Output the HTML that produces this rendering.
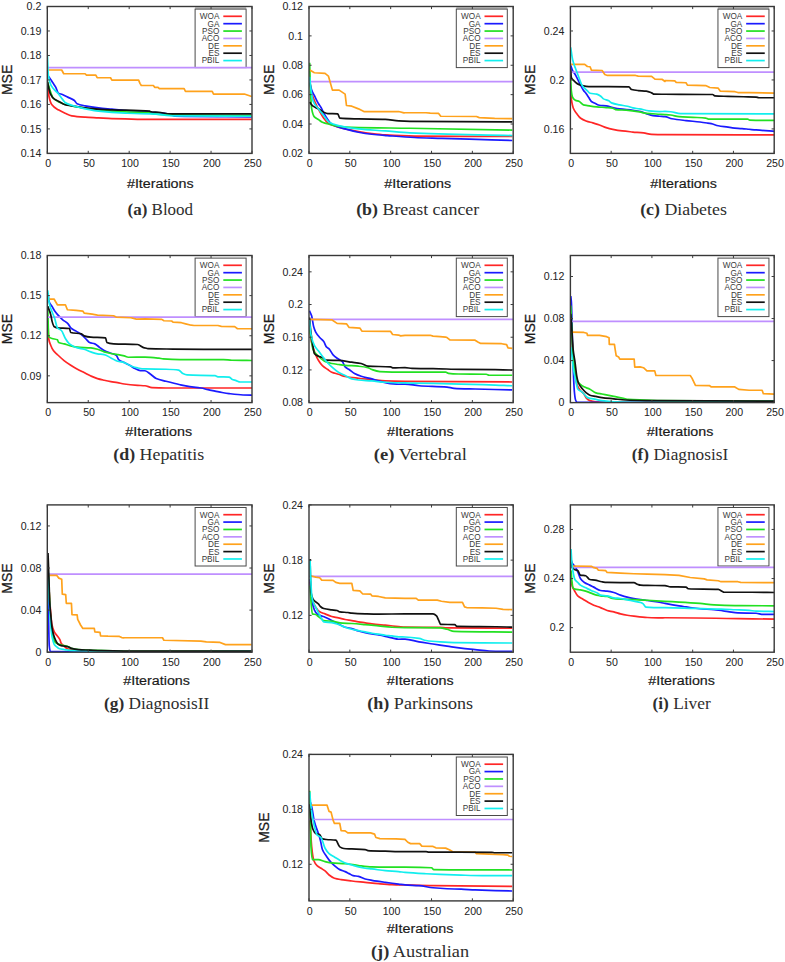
<!DOCTYPE html>
<html><head><meta charset="utf-8"><style>
html,body{margin:0;padding:0;background:#fff;width:785px;height:962px;overflow:hidden}
svg{display:block}
text{font-family:"Liberation Sans",sans-serif;fill:#222}
.yt{font-size:10.6px;text-anchor:end}
.xt{font-size:10.6px;text-anchor:middle}
.lg{font-size:8.2px;text-anchor:end;fill:#3a3a3a}
.ml{font-size:14.0px;text-anchor:middle;fill:#1a1a1a;stroke:#1a1a1a;stroke-width:0.25px}
.xl{font-size:14.3px;text-anchor:middle;fill:#1a1a1a;stroke:#1a1a1a;stroke-width:0.2px}
.cap{font-family:"Liberation Serif",serif;font-size:16.6px;text-anchor:middle;fill:#2e2e2e}
</style></head><body>
<svg width="785" height="962" viewBox="0 0 785 962">
<clipPath id="cpa"><rect x="47.3" y="6.5" width="204.7" height="146.9"/></clipPath>
<rect x="195.1" y="6.5" width="51" height="2.6" fill="#c4c4c4"/>
<rect x="195.1" y="9.1" width="51" height="58.5" fill="#fff" stroke="#4a4a4a" stroke-width="1"/>
<text x="219.4" y="19.2" class="lg">WOA</text>
<path d="M223.3 16.3H241.9" stroke="#ff2626" stroke-width="1.7"/>
<text x="219.4" y="26.58" class="lg">GA</text>
<path d="M223.3 23.68H241.9" stroke="#1a1aff" stroke-width="1.7"/>
<text x="219.4" y="33.96" class="lg">PSO</text>
<path d="M223.3 31.06H241.9" stroke="#22e022" stroke-width="1.7"/>
<text x="219.4" y="41.34" class="lg">ACO</text>
<path d="M223.3 38.44H241.9" stroke="#bf8fff" stroke-width="1.7"/>
<text x="219.4" y="48.72" class="lg">DE</text>
<path d="M223.3 45.82H241.9" stroke="#ffa21c" stroke-width="1.7"/>
<text x="219.4" y="56.1" class="lg">ES</text>
<path d="M223.3 53.2H241.9" stroke="#111111" stroke-width="1.7"/>
<text x="219.4" y="63.48" class="lg">PBIL</text>
<path d="M223.3 60.58H241.9" stroke="#12eeee" stroke-width="1.7"/>
<g clip-path="url(#cpa)" fill="none" stroke-width="1.7" stroke-linejoin="round">
<path d="M47.41 81.75C47.94 86.66 48.48 93.94 49.01 96.47C49.9 100.67 50.8 103.26 51.69 104.49C53.92 107.56 56.15 108.47 58.38 109.84C60.61 111.21 62.83 112.2 65.06 113.19C67.29 114.18 69.52 115.48 71.75 115.86C76.21 116.63 80.67 116.9 85.13 117.2C89.59 117.5 94.05 117.64 98.5 117.87C102.96 118.09 107.42 118.37 111.88 118.54C116.34 118.7 120.8 118.82 125.26 118.94C133.51 119.15 141.75 119.47 150 119.47C150.02 119.47 150.04 119.47 150.05 119.47C183.92 119.47 217.79 119.47 251.67 119.47" stroke="#ff2626"/>
<path d="M47.41 75.06C47.94 75.73 48.48 76.35 49.01 77.07C50.35 78.87 51.69 81.08 53.03 83.09C53.92 84.43 54.81 85.5 55.7 87.1C56.59 88.71 57.48 92.58 58.38 93.12C59.71 93.94 61.05 93.93 62.39 94.46C64.17 95.17 65.96 96.24 67.74 97.13C69.97 98.25 72.2 98.78 74.43 100.48C75.32 101.16 76.21 103.4 77.1 103.82C79.78 105.08 82.45 105.32 85.13 105.83C89.59 106.68 94.05 107.3 98.5 107.84C102.96 108.37 107.42 108.73 111.88 109.17C116.34 109.62 120.8 110.14 125.26 110.51C133.51 111.2 141.75 110.56 150 112.25C150.02 112.25 150.04 112.52 150.05 112.52C152.94 112.78 155.82 112.64 158.7 112.78C162.71 112.98 166.73 113.58 170.74 114.52C172.08 114.84 173.41 116.24 174.75 116.26C200.39 116.76 226.03 116.62 251.67 116.8" stroke="#1a1aff"/>
<path d="M47.41 81.75C49.28 87.1 51.15 95.59 53.03 97.8C54.81 99.91 56.59 100.88 58.38 101.82C60.61 102.99 62.83 103.87 65.06 104.49C69.52 105.73 73.98 106.44 78.44 107.17C85.13 108.25 91.82 109.19 98.5 109.84C107.42 110.71 116.34 111.4 125.26 111.85C133.51 112.26 141.75 111.86 150 112.78C150.02 112.79 150.04 113.18 150.05 113.19C158.29 114.89 166.52 114.8 174.75 114.93C200.39 115.3 226.03 115.28 251.67 115.46" stroke="#22e022"/>
<path d="M47.3 67.7H252" stroke="#bf8fff"/>
<path d="M47.68 69.98 61.72 69.98 63.73 73.73 85.13 73.73 86.47 75.06 95.83 75.06 97.17 77.74 110.54 77.74 111.88 80.15 138.63 80.15 139.97 83.36 141.31 85.5 150 85.5 148 85.5 153.35 85.5 154.69 87.37 158.03 87.37 159.37 88.71 184.12 88.71 185.45 91.38 212.21 91.38 213.54 94.06 244.31 94.06 251.67 96.47" stroke="#ffa21c"/>
<path d="M47.41 81.75C48.39 85.77 49.37 91.77 50.35 93.79C51.69 96.55 53.03 98.17 54.36 99.14C55.7 100.11 57.04 100.46 58.38 101.15C60.61 102.3 62.83 104.21 65.06 104.76C67.29 105.31 69.52 105.48 71.75 105.83C76.21 106.52 80.67 107.3 85.13 107.84C89.59 108.37 94.05 108.88 98.5 109.17C102.96 109.47 107.42 109.65 111.88 109.84C124.59 110.38 137.3 109.86 150 111.18C150.02 111.18 150.04 111.44 150.05 111.45C152.94 112.22 155.82 111.94 158.7 112.25C162.71 112.68 166.73 113.86 170.74 113.86C197.71 113.86 224.69 113.86 251.67 113.86" stroke="#111111"/>
<path d="M47.41 55C47.72 61.69 48.03 72.94 48.34 75.06C49.46 82.64 50.57 84.47 51.69 86.43C53.92 90.36 56.15 91.08 58.38 93.79C59.71 95.42 61.05 97.42 62.39 99.14C63.28 100.29 64.17 101.93 65.06 102.49C69.52 105.27 73.98 106.01 78.44 107.17C85.13 108.9 91.82 110.43 98.5 111.18C107.42 112.17 116.34 112.83 125.26 113.19C133.51 113.51 141.75 113.86 150 113.86C150.02 113.86 150.04 113.86 150.05 113.86C158.29 113.86 166.52 115.77 174.75 115.86C200.39 116.16 226.03 116.13 251.67 116.26" stroke="#12eeee"/>
</g>
<rect x="47.3" y="6.5" width="204.7" height="146.9" fill="none" stroke="#383838" stroke-width="1.4"/>
<text x="41.3" y="157.15" class="yt">0.14</text>
<text x="41.3" y="132.67" class="yt">0.15</text>
<text x="41.3" y="108.18" class="yt">0.16</text>
<text x="41.3" y="83.7" class="yt">0.17</text>
<text x="41.3" y="59.22" class="yt">0.18</text>
<text x="41.3" y="34.73" class="yt">0.19</text>
<text x="41.3" y="10.25" class="yt">0.2</text>
<text x="48.1" y="167" class="xt">0</text>
<text x="89.04" y="167" class="xt">50</text>
<text x="129.98" y="167" class="xt">100</text>
<text x="170.92" y="167" class="xt">150</text>
<text x="211.86" y="167" class="xt">200</text>
<text x="252.8" y="167" class="xt">250</text>
<path d="M47.3 153.4h2.6M252 153.4h-2.6M47.3 128.92h2.6M252 128.92h-2.6M47.3 104.43h2.6M252 104.43h-2.6M47.3 79.95h2.6M252 79.95h-2.6M47.3 55.47h2.6M252 55.47h-2.6M47.3 30.98h2.6M252 30.98h-2.6M47.3 6.5h2.6M252 6.5h-2.6M47.3 153.4v-2.6M47.3 6.5v2.6M88.24 153.4v-2.6M88.24 6.5v2.6M129.18 153.4v-2.6M129.18 6.5v2.6M170.12 153.4v-2.6M170.12 6.5v2.6M211.06 153.4v-2.6M211.06 6.5v2.6M252 153.4v-2.6M252 6.5v2.6" stroke="#3c3c3c" stroke-width="1"/>
<text transform="translate(12.2 79.95) rotate(-90)" class="ml">MSE</text>
<text transform="translate(160.3 187.8) scale(1 0.93)" class="xl">#Iterations</text>
<text x="160.3" y="214.7" class="cap" textLength="65.6" lengthAdjust="spacingAndGlyphs"><tspan font-weight="bold">(a)</tspan> Blood</text>
<clipPath id="cpb"><rect x="309" y="6.5" width="204.2" height="146.9"/></clipPath>
<rect x="456.3" y="6.5" width="51" height="2.6" fill="#c4c4c4"/>
<rect x="456.3" y="9.1" width="51" height="58.5" fill="#fff" stroke="#4a4a4a" stroke-width="1"/>
<text x="480.6" y="19.2" class="lg">WOA</text>
<path d="M484.5 16.3H503.1" stroke="#ff2626" stroke-width="1.7"/>
<text x="480.6" y="26.58" class="lg">GA</text>
<path d="M484.5 23.68H503.1" stroke="#1a1aff" stroke-width="1.7"/>
<text x="480.6" y="33.96" class="lg">PSO</text>
<path d="M484.5 31.06H503.1" stroke="#22e022" stroke-width="1.7"/>
<text x="480.6" y="41.34" class="lg">ACO</text>
<path d="M484.5 38.44H503.1" stroke="#bf8fff" stroke-width="1.7"/>
<text x="480.6" y="48.72" class="lg">DE</text>
<path d="M484.5 45.82H503.1" stroke="#ffa21c" stroke-width="1.7"/>
<text x="480.6" y="56.1" class="lg">ES</text>
<path d="M484.5 53.2H503.1" stroke="#111111" stroke-width="1.7"/>
<text x="480.6" y="63.48" class="lg">PBIL</text>
<path d="M484.5 60.58H503.1" stroke="#12eeee" stroke-width="1.7"/>
<g clip-path="url(#cpb)" fill="none" stroke-width="1.7" stroke-linejoin="round">
<path d="M309.68 80.77C310.35 84.78 311.02 90.22 311.69 92.8C313.03 97.96 314.36 100.45 315.7 103.5C317.04 106.56 318.38 109.1 319.71 111.53C321.05 113.96 322.39 116.38 323.73 118.22C325.06 120.05 326.4 121.96 327.74 122.9C329.08 123.84 330.41 124.38 331.75 124.91C336.21 126.66 340.67 127.85 345.13 128.92C349.59 129.99 354.05 130.83 358.5 131.59C362.96 132.36 367.42 133.07 371.88 133.6C376.34 134.14 380.8 134.67 385.26 134.94C395.02 135.53 404.79 136.07 414.56 136.13C447.15 136.33 479.75 136.31 512.34 136.4" stroke="#ff2626"/>
<path d="M309.68 82.1C310.35 84.78 311.02 88.32 311.69 90.13C312.58 92.54 313.47 93.7 314.36 95.48C315.7 98.15 317.04 101.23 318.38 103.5C319.27 105.02 320.16 105.99 321.05 107.52C321.94 109.05 322.83 111.24 323.73 112.87C325.06 115.31 326.4 117.72 327.74 119.56C329.08 121.39 330.41 123.44 331.75 124.24C336.21 126.9 340.67 127.62 345.13 128.92C349.59 130.22 354.05 131.43 358.5 132.26C362.96 133.1 367.42 133.78 371.88 134.27C376.98 134.83 382.07 135.18 387.17 135.58C396.3 136.29 405.43 137.11 414.56 137.5C423.69 137.88 432.82 138.04 441.95 138.32C451.08 138.59 460.21 138.86 469.34 139.14C483.67 139.58 498.01 140.05 512.34 140.51" stroke="#1a1aff"/>
<path d="M309.68 62.71C309.9 70.96 310.13 82.24 310.35 87.45C310.8 97.87 311.24 106.42 311.69 108.86C312.58 113.73 313.47 115.86 314.36 116.88C315.7 118.4 317.04 118.66 318.38 119.56C319.71 120.45 321.05 121.66 322.39 122.23C324.62 123.18 326.85 123.68 329.08 124.24C332.2 125.03 335.32 125.87 338.44 126.24C342.9 126.78 347.36 127.18 351.82 127.31C371.21 127.92 390.61 127.92 410 128.25C444.12 128.83 478.23 129.48 512.34 130.1" stroke="#22e022"/>
<path d="M309 81.7H513.2" stroke="#bf8fff"/>
<path d="M309.82 70.06 314.36 72.74 325.06 73.41 328.41 76.08 332.42 90.13 339.11 90.13 345.13 94.14 346.47 105.51 351.82 106.18 358.5 108.86 363.86 111.53 398.63 111.53 403.98 112.87 405 112.74 426.02 112.74 430.22 113.16 438.63 113.44 440.73 116.24 476.47 116.52 479.27 117.65 494.69 118.35 512.2 118.63" stroke="#ffa21c"/>
<path d="M309.68 102.17C310.8 103.5 311.91 105.37 313.03 106.18C314.81 107.48 316.59 107.86 318.38 108.86C320.16 109.85 321.94 111.43 323.73 112.2C325.06 112.77 326.4 113.43 327.74 113.54C331.08 113.81 334.43 113.6 337.77 113.94C338.44 114 339.11 118.15 339.78 118.22C346.02 118.81 352.26 118.75 358.5 118.89C367.42 119.08 376.34 119.03 385.26 119.29C389.72 119.42 394.17 120.65 398.63 120.89C402.42 121.1 406.21 121.25 410 121.29C444.12 121.71 478.23 121.69 512.34 121.88" stroke="#111111"/>
<path d="M309.68 76.75C310.13 81.21 310.57 86.96 311.02 90.13C311.69 94.88 312.36 99.12 313.03 100.83C314.81 105.39 316.59 106.42 318.38 108.86C320.16 111.29 321.94 113.31 323.73 115.54C325.51 117.77 327.29 121.19 329.08 122.23C332.2 124.06 335.32 124.83 338.44 125.58C345.13 127.17 351.82 128.21 358.5 128.92C367.42 129.86 376.34 130.23 385.26 130.93C393.51 131.57 401.75 132.57 410 132.93C444.12 134.43 478.23 134.7 512.34 135.58" stroke="#12eeee"/>
</g>
<rect x="309" y="6.5" width="204.2" height="146.9" fill="none" stroke="#383838" stroke-width="1.4"/>
<text x="303" y="157.15" class="yt">0.02</text>
<text x="303" y="127.77" class="yt">0.04</text>
<text x="303" y="98.39" class="yt">0.06</text>
<text x="303" y="69.01" class="yt">0.08</text>
<text x="303" y="39.63" class="yt">0.1</text>
<text x="303" y="10.25" class="yt">0.12</text>
<text x="309.8" y="167" class="xt">0</text>
<text x="350.64" y="167" class="xt">50</text>
<text x="391.48" y="167" class="xt">100</text>
<text x="432.32" y="167" class="xt">150</text>
<text x="473.16" y="167" class="xt">200</text>
<text x="514" y="167" class="xt">250</text>
<path d="M309 153.4h2.6M513.2 153.4h-2.6M309 124.02h2.6M513.2 124.02h-2.6M309 94.64h2.6M513.2 94.64h-2.6M309 65.26h2.6M513.2 65.26h-2.6M309 35.88h2.6M513.2 35.88h-2.6M309 6.5h2.6M513.2 6.5h-2.6M309 153.4v-2.6M309 6.5v2.6M349.84 153.4v-2.6M349.84 6.5v2.6M390.68 153.4v-2.6M390.68 6.5v2.6M431.52 153.4v-2.6M431.52 6.5v2.6M472.36 153.4v-2.6M472.36 6.5v2.6M513.2 153.4v-2.6M513.2 6.5v2.6" stroke="#3c3c3c" stroke-width="1"/>
<text transform="translate(273.7 79.95) rotate(-90)" class="ml">MSE</text>
<text transform="translate(417.7 187.7) scale(1 0.93)" class="xl">#Iterations</text>
<text x="417.7" y="214.8" class="cap" textLength="123.1" lengthAdjust="spacingAndGlyphs"><tspan font-weight="bold">(b)</tspan> Breast cancer</text>
<clipPath id="cpc"><rect x="570.4" y="6.5" width="203.8" height="146.9"/></clipPath>
<rect x="717.95" y="6.5" width="51" height="2.6" fill="#c4c4c4"/>
<rect x="717.95" y="9.1" width="51" height="58.5" fill="#fff" stroke="#4a4a4a" stroke-width="1"/>
<text x="742.25" y="19.2" class="lg">WOA</text>
<path d="M746.15 16.3H764.75" stroke="#ff2626" stroke-width="1.7"/>
<text x="742.25" y="26.58" class="lg">GA</text>
<path d="M746.15 23.68H764.75" stroke="#1a1aff" stroke-width="1.7"/>
<text x="742.25" y="33.96" class="lg">PSO</text>
<path d="M746.15 31.06H764.75" stroke="#22e022" stroke-width="1.7"/>
<text x="742.25" y="41.34" class="lg">ACO</text>
<path d="M746.15 38.44H764.75" stroke="#bf8fff" stroke-width="1.7"/>
<text x="742.25" y="48.72" class="lg">DE</text>
<path d="M746.15 45.82H764.75" stroke="#ffa21c" stroke-width="1.7"/>
<text x="742.25" y="56.1" class="lg">ES</text>
<path d="M746.15 53.2H764.75" stroke="#111111" stroke-width="1.7"/>
<text x="742.25" y="63.48" class="lg">PBIL</text>
<path d="M746.15 60.58H764.75" stroke="#12eeee" stroke-width="1.7"/>
<g clip-path="url(#cpc)" fill="none" stroke-width="1.7" stroke-linejoin="round">
<path d="M570.68 90.83C570.9 93.5 571.13 97.24 571.35 98.86C572.02 103.71 572.69 106.56 573.36 108.22C574.47 110.99 575.59 112.06 576.7 113.57C578.04 115.38 579.38 117.3 580.71 118.25C582.5 119.52 584.28 120.25 586.06 120.93C588.29 121.77 590.52 122.26 592.75 122.93C594.98 123.6 597.21 124.17 599.44 124.94C601.67 125.7 603.9 126.91 606.13 127.61C608.36 128.32 610.59 128.89 612.82 129.35C615.94 130 619.06 130.56 622.18 130.96C625.75 131.41 629.31 131.69 632.88 132.03C636.45 132.36 640.01 132.55 643.58 132.96C646.26 133.28 648.93 134.19 651.61 134.3C656.07 134.49 660.54 134.57 665 134.6C701.67 134.81 738.34 134.78 775.01 134.88" stroke="#ff2626"/>
<path d="M570.68 65.41C571.35 67.2 572.02 69.46 572.69 70.77C573.58 72.5 574.47 73.26 575.36 74.78C576.7 77.05 578.04 80.24 579.38 82.8C580.71 85.36 582.05 88.2 583.39 90.16C584.28 91.47 585.17 92.29 586.06 93.5C586.96 94.72 587.85 96.18 588.74 97.52C589.63 98.86 590.52 100.84 591.41 101.53C592.75 102.57 594.09 102.92 595.43 103.54C596.77 104.16 598.1 105.08 599.44 105.28C601.67 105.59 603.9 105.54 606.13 105.81C608.36 106.08 610.59 107.05 612.82 107.55C615.05 108.05 617.28 108.58 619.5 108.89C623.96 109.5 628.42 109.66 632.88 110.22C635.56 110.57 638.23 110.93 640.91 111.56C642.69 111.98 644.47 112.97 646.26 113.57C648.49 114.31 650.72 115.24 652.94 115.58C655.17 115.91 657.4 116.05 659.63 116.24C661.42 116.4 663.21 116.44 665 116.66C667.34 116.94 669.67 118.32 672.01 118.76C676.68 119.65 681.35 120.05 686.02 120.58C690.69 121.11 695.36 121.43 700.03 121.98C702.37 122.26 704.7 122.61 707.04 122.97C708.44 123.18 709.84 123.37 711.24 123.67C713.58 124.15 715.92 125.31 718.25 125.77C721.52 126.41 724.79 126.66 728.06 127.17C729.46 127.39 730.86 127.72 732.26 127.87C735.53 128.22 738.8 128.3 742.07 128.57C744.41 128.77 746.75 129.04 749.08 129.27C751.42 129.5 753.75 129.77 756.09 129.97C762.39 130.52 768.7 130.91 775.01 131.37" stroke="#1a1aff"/>
<path d="M570.68 78.79C570.9 82.8 571.13 88.97 571.35 90.83C571.8 94.55 572.24 96.71 572.69 97.52C573.58 99.12 574.47 99.73 575.36 100.19C576.7 100.88 578.04 100.89 579.38 101.53C580.71 102.17 582.05 104.5 583.39 104.87C584.73 105.25 586.06 105.34 587.4 105.54C590.52 106.03 593.64 106.58 596.77 106.88C599.89 107.18 603.01 107.29 606.13 107.55C608.36 107.74 610.59 107.81 612.82 108.22C613.71 108.38 614.6 109.44 615.49 109.56C619.06 110.03 622.63 109.93 626.19 110.22C630.65 110.6 635.11 111.24 639.57 111.96C641.8 112.32 644.03 113.06 646.26 113.3C650.72 113.79 655.17 113.95 659.63 114.24C661.42 114.35 663.21 114.44 665 114.56C666.87 114.68 668.74 114.78 670.61 114.98C673.41 115.27 676.21 116.42 679.01 116.66C683.68 117.05 688.36 117.11 693.03 117.36C697.23 117.58 701.43 117.58 705.64 118.06C706.57 118.17 707.51 119.03 708.44 119.04C721.52 119.17 734.6 119.05 747.68 119.18C748.38 119.19 749.08 120.14 749.78 120.16C758.19 120.41 766.6 120.35 775.01 120.44" stroke="#22e022"/>
<path d="M570.4 72.1H774.2" stroke="#bf8fff"/>
<path d="M571.08 64.34 584.73 64.34 587.4 66.48 590.08 66.75 591.41 70.1 602.12 70.5 604.79 74.51 607.47 75.45 635.56 75.45 638.23 76.12 651.61 76.38 654.95 79.06 662.31 79.46 664.98 81.47 665 80.5 674.81 80.92 676.21 82.33 686.02 82.75 687.42 85.13 705.64 85.55 709.84 87.51 718.25 88.21 720.35 91.15 735.07 91.72 737.87 92.56 749.08 92.56 775.01 93.12" stroke="#ffa21c"/>
<path d="M570.68 69.43C570.9 72.1 571.13 76.85 571.35 77.45C572.24 79.86 573.13 79.89 574.03 80.8C575.36 82.15 576.7 83.5 578.04 84.14C579.38 84.78 580.71 85.18 582.05 85.48C584.28 85.98 586.51 86.51 588.74 86.55C602.12 86.77 615.49 86.57 628.87 86.82C629.76 86.83 630.65 89.22 631.54 89.49C633.77 90.18 636 90.35 638.23 90.56C640.91 90.82 643.58 90.79 646.26 91.1C648.04 91.3 649.82 92.12 651.61 92.84C652.5 93.2 653.39 94.16 654.28 94.17C657.86 94.23 661.43 94.22 665 94.24C680.88 94.33 696.76 94.25 712.65 94.52C713.35 94.53 714.05 95.87 714.75 95.92C719.19 96.26 723.62 96.21 728.06 96.34C733.2 96.49 738.34 96.63 743.48 96.76C747.68 96.86 751.88 96.83 756.09 97.04C757.02 97.09 757.96 97.74 758.89 97.74C764.26 97.74 769.63 97.74 775.01 97.74" stroke="#111111"/>
<path d="M570.68 47.36C571.35 51.59 572.02 57.29 572.69 60.06C573.58 63.76 574.47 65.56 575.36 68.09C576.7 71.88 578.04 75.35 579.38 78.79C580.27 81.09 581.16 84.14 582.05 85.48C583.83 88.15 585.62 89.15 587.4 90.83C588.29 91.67 589.19 93 590.08 93.24C592.31 93.84 594.54 93.66 596.77 94.17C598.1 94.48 599.44 95.27 600.78 96.18C601.67 96.79 602.56 98.34 603.45 98.86C605.24 99.88 607.02 99.94 608.8 100.86C609.7 101.32 610.59 102.5 611.48 102.87C614.15 103.96 616.83 104.34 619.5 104.87C622.18 105.41 624.86 105.61 627.53 106.21C629.31 106.61 631.1 107.6 632.88 107.95C635.11 108.39 637.34 108.51 639.57 108.89C642.69 109.41 645.81 110.59 648.93 110.89C652.5 111.24 656.07 111.56 659.63 111.56C661.42 111.56 663.21 111.47 665 111.47C666.87 111.47 668.74 111.61 670.61 111.75C673.88 112 677.14 113.55 680.41 113.58C711.95 113.83 743.48 113.76 775.01 113.86" stroke="#12eeee"/>
</g>
<rect x="570.4" y="6.5" width="203.8" height="146.9" fill="none" stroke="#383838" stroke-width="1.4"/>
<text x="564.4" y="132.67" class="yt">0.16</text>
<text x="564.4" y="83.7" class="yt">0.2</text>
<text x="564.4" y="34.73" class="yt">0.24</text>
<text x="571.2" y="167" class="xt">0</text>
<text x="611.96" y="167" class="xt">50</text>
<text x="652.72" y="167" class="xt">100</text>
<text x="693.48" y="167" class="xt">150</text>
<text x="734.24" y="167" class="xt">200</text>
<text x="775" y="167" class="xt">250</text>
<path d="M570.4 128.92h2.6M774.2 128.92h-2.6M570.4 79.95h2.6M774.2 79.95h-2.6M570.4 30.98h2.6M774.2 30.98h-2.6M570.4 153.4v-2.6M570.4 6.5v2.6M611.16 153.4v-2.6M611.16 6.5v2.6M651.92 153.4v-2.6M651.92 6.5v2.6M692.68 153.4v-2.6M692.68 6.5v2.6M733.44 153.4v-2.6M733.44 6.5v2.6M774.2 153.4v-2.6M774.2 6.5v2.6" stroke="#3c3c3c" stroke-width="1"/>
<text transform="translate(534.7 79.95) rotate(-90)" class="ml">MSE</text>
<text transform="translate(683.5 187.7) scale(1 0.93)" class="xl">#Iterations</text>
<text x="683.5" y="214.8" class="cap" textLength="86.7" lengthAdjust="spacingAndGlyphs"><tspan font-weight="bold">(c)</tspan> Diabetes</text>
<clipPath id="cpd"><rect x="47.3" y="255.5" width="204.7" height="147.1"/></clipPath>
<rect x="195.1" y="258.1" width="51" height="58.5" fill="#fff" stroke="#4a4a4a" stroke-width="1"/>
<text x="219.4" y="268.2" class="lg">WOA</text>
<path d="M223.3 265.3H241.9" stroke="#ff2626" stroke-width="1.7"/>
<text x="219.4" y="275.58" class="lg">GA</text>
<path d="M223.3 272.68H241.9" stroke="#1a1aff" stroke-width="1.7"/>
<text x="219.4" y="282.96" class="lg">PSO</text>
<path d="M223.3 280.06H241.9" stroke="#22e022" stroke-width="1.7"/>
<text x="219.4" y="290.34" class="lg">ACO</text>
<path d="M223.3 287.44H241.9" stroke="#bf8fff" stroke-width="1.7"/>
<text x="219.4" y="297.72" class="lg">DE</text>
<path d="M223.3 294.82H241.9" stroke="#ffa21c" stroke-width="1.7"/>
<text x="219.4" y="305.1" class="lg">ES</text>
<path d="M223.3 302.2H241.9" stroke="#111111" stroke-width="1.7"/>
<text x="219.4" y="312.48" class="lg">PBIL</text>
<path d="M223.3 309.58H241.9" stroke="#12eeee" stroke-width="1.7"/>
<g clip-path="url(#cpd)" fill="none" stroke-width="1.7" stroke-linejoin="round">
<path d="M48.01 323.79C48.24 328.7 48.46 337.03 48.68 338.5C49.35 342.92 50.02 343.5 50.69 345.19C51.58 347.45 52.47 349.33 53.36 350.54C54.7 352.37 56.04 353.28 57.38 354.56C59.61 356.68 61.83 358.82 64.06 360.58C66.29 362.33 68.52 363.82 70.75 365.26C72.98 366.7 75.21 368.05 77.44 369.27C79.67 370.49 81.9 371.5 84.13 372.61C86.36 373.73 88.59 374.97 90.82 375.96C93.05 376.95 95.28 377.96 97.5 378.63C99.73 379.3 101.96 379.75 104.19 380.24C106.42 380.72 108.65 381.18 110.88 381.58C113.11 381.97 115.34 382.25 117.57 382.65C119.8 383.04 122.03 383.67 124.26 383.98C128.72 384.6 133.17 384.99 137.63 385.32C140.09 385.5 142.54 385.52 145 385.76C147.34 385.99 149.67 387.45 152.01 387.58C156.68 387.86 161.35 388 166.02 388C195.68 388 225.34 388 255.01 388" stroke="#ff2626"/>
<path d="M47.75 293.03C48.28 296.15 48.82 301.05 49.35 302.39C50.24 304.63 51.13 304.96 52.03 306.4C52.92 307.84 53.81 309.78 54.7 311.08C55.59 312.38 56.48 313.42 57.38 314.43C59.16 316.43 60.94 318.25 62.73 319.78C64.51 321.31 66.29 321.94 68.08 323.79C68.97 324.72 69.86 326.98 70.75 327.8C72.54 329.45 74.32 330.03 76.1 331.15C77.89 332.26 79.67 333.08 81.45 334.49C82.34 335.2 83.24 336.28 84.13 337.17C85.02 338.06 85.91 338.95 86.8 339.84C87.7 340.73 88.59 342.14 89.48 342.52C91.26 343.28 93.05 343.19 94.83 343.86C96.61 344.52 98.4 346.61 100.18 347.87C101.52 348.81 102.86 349.86 104.19 350.54C106.42 351.68 108.65 352.36 110.88 353.22C112.66 353.91 114.45 354.04 116.23 355.22C117.12 355.82 118.01 359.17 118.91 359.91C120.69 361.38 122.47 361.69 124.26 362.58C126.04 363.47 127.82 364.27 129.61 365.26C131.39 366.25 133.17 367.76 134.96 368.6C136.74 369.44 138.52 370.5 140.31 370.61C141.87 370.7 143.44 370.67 145 370.77C146.87 370.89 148.74 373 150.61 374.27C152.47 375.55 154.34 377.67 156.21 378.48C159.48 379.89 162.75 380.4 166.02 381.28C170.69 382.53 175.36 383.76 180.03 384.78C182.37 385.29 184.7 385.81 187.04 386.18C191.71 386.94 196.38 387.19 201.05 388C203.39 388.41 205.72 389.18 208.06 389.69C210.4 390.2 212.73 390.62 215.07 391.09C217.4 391.55 219.74 392.07 222.07 392.49C224.41 392.9 226.75 393.31 229.08 393.61C233.75 394.2 238.42 394.84 243.09 395.01C247.06 395.16 251.04 395.2 255.01 395.29" stroke="#1a1aff"/>
<path d="M47.75 306.4C48.06 316.43 48.37 336.05 48.68 336.5C49.8 338.1 50.91 338.1 52.03 338.5C53.81 339.15 55.59 338.9 57.38 339.84C57.82 340.08 58.27 342.28 58.71 342.52C60.5 343.46 62.28 343.37 64.06 343.86C66.29 344.46 68.52 345.33 70.75 345.86C72.98 346.4 75.21 347.01 77.44 347.2C81.9 347.58 86.36 347.49 90.82 347.87C93.05 348.06 95.28 348.61 97.5 349.21C99.73 349.8 101.96 351.21 104.19 351.88C106.42 352.55 108.65 353.06 110.88 353.49C113.11 353.91 115.34 354.16 117.57 354.56C119.8 354.95 122.03 355.32 124.26 355.89C125.59 356.24 126.93 357.23 128.27 357.23C133.85 357.23 139.42 357.03 145 357.03C149.67 357.03 154.34 357.62 159.01 358.16C160.41 358.32 161.82 358.75 163.22 358.86C168.82 359.28 174.43 359.56 180.03 359.56C194.51 359.56 208.99 359.56 223.48 359.56C226.28 359.56 229.08 360.19 231.88 360.26C239.59 360.44 247.3 360.44 255.01 360.54" stroke="#22e022"/>
<path d="M47.3 317.1H252" stroke="#bf8fff"/>
<path d="M48.01 299.04 54.03 299.04 57.38 304.8 65.4 304.8 67.41 309.75 76.1 310.41 82.79 311.08 84.13 313.09 92.15 314.16 97.5 315.1 113.56 315.77 116.23 317.1 130.94 317.77 136.3 319.11 145 318.92 161.82 319.34 163.92 320.74 171.63 321.02 173.03 322.14 181.43 322.7 185.64 323.82 191.24 325.22 194.05 325.5 217.87 325.5 221.37 326.35 234.69 326.63 237.49 328.73 255.01 328.73" stroke="#ffa21c"/>
<path d="M47.75 306.4C48.73 309.08 49.71 310.83 50.69 314.43C51.13 316.06 51.58 319.53 52.03 321.12C52.69 323.49 53.36 325.97 54.03 326.47C55.15 327.29 56.26 327.68 57.38 327.8C61.39 328.26 65.4 327.88 69.41 328.47C69.86 328.54 70.31 332.34 70.75 332.49C74.32 333.61 77.89 332.93 81.45 333.82C82.34 334.05 83.24 335.52 84.13 335.83C86.36 336.6 88.59 336.99 90.82 337.17C95.72 337.56 100.63 337.23 105.53 337.84C105.98 337.89 106.42 342.31 106.87 342.52C109.1 343.57 111.33 343.73 113.56 343.86C121.58 344.31 129.61 344.02 137.63 344.52C139.86 344.66 142.09 347.59 144.32 347.87C144.55 347.9 144.77 347.9 145 347.93C145.93 348.03 146.87 348.59 147.8 348.63C156.21 348.97 164.62 348.95 173.03 349.05C183.3 349.17 193.58 349.33 203.86 349.33C220.91 349.33 237.96 349.33 255.01 349.33" stroke="#111111"/>
<path d="M47.75 290.35C48.28 294.81 48.82 301.27 49.35 303.73C50.24 307.82 51.13 309.32 52.03 311.75C52.92 314.18 53.81 315.84 54.7 318.44C55.59 321.04 56.48 326.76 57.38 327.8C58.71 329.37 60.05 329.14 61.39 330.48C62.73 331.82 64.06 336.36 65.4 338.5C66.74 340.64 68.08 342.83 69.41 343.86C72.09 345.9 74.77 347.11 77.44 347.87C79.67 348.5 81.9 348.61 84.13 349.21C86.36 349.8 88.59 351.12 90.82 351.88C93.05 352.65 95.28 353.55 97.5 353.89C99.73 354.22 101.96 354.18 104.19 354.56C106.42 354.93 108.65 356.79 110.88 357.9C113.11 359.01 115.34 360.61 117.57 361.24C119.8 361.88 122.03 361.94 124.26 362.58C126.49 363.22 128.72 365.09 130.94 365.93C133.17 366.76 135.4 367.51 137.63 367.93C140.09 368.4 142.54 368.88 145 368.95C152.01 369.14 159.01 369.06 166.02 369.23C170.22 369.33 174.43 369.46 178.63 370.07C180.03 370.27 181.43 372.9 182.84 373.57C184.24 374.24 185.64 374.89 187.04 374.97C196.38 375.52 205.72 375.09 215.07 375.67C216 375.73 216.94 376.74 217.87 376.79C221.61 377.01 225.34 376.85 229.08 377.07C230.01 377.13 230.95 378.73 231.88 379.18C233.28 379.84 234.69 380.11 236.09 380.58C237.49 381.04 238.89 381.98 240.29 381.98C245.2 381.98 250.1 381.98 255.01 381.98" stroke="#12eeee"/>
</g>
<rect x="47.3" y="255.5" width="204.7" height="147.1" fill="none" stroke="#383838" stroke-width="1.4"/>
<text x="41.3" y="379.6" class="yt">0.09</text>
<text x="41.3" y="339.49" class="yt">0.12</text>
<text x="41.3" y="299.37" class="yt">0.15</text>
<text x="41.3" y="259.25" class="yt">0.18</text>
<text x="48.1" y="416.2" class="xt">0</text>
<text x="89.04" y="416.2" class="xt">50</text>
<text x="129.98" y="416.2" class="xt">100</text>
<text x="170.92" y="416.2" class="xt">150</text>
<text x="211.86" y="416.2" class="xt">200</text>
<text x="252.8" y="416.2" class="xt">250</text>
<path d="M47.3 375.85h2.6M252 375.85h-2.6M47.3 335.74h2.6M252 335.74h-2.6M47.3 295.62h2.6M252 295.62h-2.6M47.3 255.5h2.6M252 255.5h-2.6M47.3 402.6v-2.6M47.3 255.5v2.6M88.24 402.6v-2.6M88.24 255.5v2.6M129.18 402.6v-2.6M129.18 255.5v2.6M170.12 402.6v-2.6M170.12 255.5v2.6M211.06 402.6v-2.6M211.06 255.5v2.6M252 402.6v-2.6M252 255.5v2.6" stroke="#3c3c3c" stroke-width="1"/>
<text transform="translate(12.2 329.05) rotate(-90)" class="ml">MSE</text>
<text transform="translate(158.7 435.7) scale(1 0.93)" class="xl">#Iterations</text>
<text x="158.7" y="459.6" class="cap" textLength="90.9" lengthAdjust="spacingAndGlyphs"><tspan font-weight="bold">(d)</tspan> Hepatitis</text>
<clipPath id="cpe"><rect x="309" y="255.5" width="204.2" height="147.1"/></clipPath>
<rect x="456.3" y="258.1" width="51" height="58.5" fill="#fff" stroke="#4a4a4a" stroke-width="1"/>
<text x="480.6" y="268.2" class="lg">WOA</text>
<path d="M484.5 265.3H503.1" stroke="#ff2626" stroke-width="1.7"/>
<text x="480.6" y="275.58" class="lg">GA</text>
<path d="M484.5 272.68H503.1" stroke="#1a1aff" stroke-width="1.7"/>
<text x="480.6" y="282.96" class="lg">PSO</text>
<path d="M484.5 280.06H503.1" stroke="#22e022" stroke-width="1.7"/>
<text x="480.6" y="290.34" class="lg">ACO</text>
<path d="M484.5 287.44H503.1" stroke="#bf8fff" stroke-width="1.7"/>
<text x="480.6" y="297.72" class="lg">DE</text>
<path d="M484.5 294.82H503.1" stroke="#ffa21c" stroke-width="1.7"/>
<text x="480.6" y="305.1" class="lg">ES</text>
<path d="M484.5 302.2H503.1" stroke="#111111" stroke-width="1.7"/>
<text x="480.6" y="312.48" class="lg">PBIL</text>
<path d="M484.5 309.58H503.1" stroke="#12eeee" stroke-width="1.7"/>
<g clip-path="url(#cpe)" fill="none" stroke-width="1.7" stroke-linejoin="round">
<path d="M309.41 318.73C309.95 325.86 310.48 337.01 311.02 340.13C311.91 345.33 312.8 346.81 313.69 349.49C314.36 351.5 315.03 353.3 315.7 354.84C316.59 356.89 317.48 358.75 318.38 360.19C319.71 362.36 321.05 364.24 322.39 365.54C324.17 367.28 325.96 368.3 327.74 369.56C329.08 370.5 330.41 371.66 331.75 372.23C333.98 373.18 336.21 373.53 338.44 374.24C340.67 374.95 342.9 376.07 345.13 376.51C349.59 377.39 354.05 377.75 358.5 378.25C362.96 378.75 367.42 379.14 371.88 379.59C376.34 380.03 380.8 380.78 385.26 380.93C391.84 381.13 398.42 381.21 405 381.28C440.73 381.66 476.47 381.75 512.2 381.98" stroke="#ff2626"/>
<path d="M309.41 310.7C310.17 312.48 310.93 313.56 311.69 316.05C312.36 318.25 313.03 324.37 313.69 326.75C314.36 329.13 315.03 330.87 315.7 332.1C317.04 334.57 318.38 335.92 319.71 337.45C321.05 338.98 322.39 339.64 323.73 341.47C324.62 342.68 325.51 345.84 326.4 346.82C327.29 347.79 328.19 347.95 329.08 348.82C330.41 350.13 331.75 353.41 333.09 354.84C334.43 356.28 335.77 357.22 337.1 358.19C338.89 359.47 340.67 359.73 342.45 361.53C343.34 362.43 344.24 365.96 345.13 366.88C346.47 368.26 347.8 368.61 349.14 369.56C350.92 370.81 352.71 372.63 354.49 373.57C356.72 374.75 358.95 375.55 361.18 376.24C364.75 377.36 368.31 377.94 371.88 378.92C374.11 379.53 376.34 380.3 378.57 380.93C380.8 381.55 383.03 382.28 385.26 382.66C389.72 383.43 394.17 384.27 398.63 384.27C400.76 384.27 402.88 384.08 405 384.08C409.67 384.08 414.34 385.42 419.01 385.76C428.36 386.45 437.7 386.37 447.04 387.16C449.38 387.36 451.71 388.14 454.05 388.28C461.05 388.72 468.06 388.78 475.07 388.99C487.45 389.35 499.82 389.64 512.2 389.97" stroke="#1a1aff"/>
<path d="M309.41 329.43C309.95 332.1 310.48 334.54 311.02 337.45C311.69 341.09 312.36 347.96 313.03 349.49C314.81 353.59 316.59 354.43 318.38 356.18C320.61 358.37 322.83 360.56 325.06 361.53C327.29 362.5 329.52 363.11 331.75 363.54C333.98 363.96 336.21 364.18 338.44 364.47C340.67 364.76 342.9 365.07 345.13 365.28C349.59 365.68 354.05 365.78 358.5 366.21C361.63 366.51 364.75 366.8 367.87 367.55C369.21 367.87 370.54 369.09 371.88 369.56C374.56 370.48 377.23 371.42 379.91 371.56C388.27 371.99 396.64 372.17 405 372.17C418.55 372.17 432.09 372.17 445.64 372.17C446.57 372.17 447.51 373.16 448.44 373.29C451.71 373.75 454.98 373.93 458.25 373.99C467.59 374.18 476.94 374.03 486.28 374.27C487.21 374.3 488.15 375.25 489.08 375.25C496.79 375.25 504.5 375.25 512.2 375.25" stroke="#22e022"/>
<path d="M309 319.4H513.2" stroke="#bf8fff"/>
<path d="M309.68 319.4 331.75 319.8 337.1 323.41 346.47 323.81 349.14 327.42 359.84 328.09 361.85 331.03 390.61 331.43 392.61 334.51 398.63 335.05 400.64 335.85 405 335.31 430.22 335.31 433.03 336.15 440.03 336.72 445.64 337.14 447.04 337.56 449.84 339.94 475.07 340.22 477.87 342.04 480.67 343.44 501.69 343.72 506.6 344.56 508 347.93 512.2 348.35" stroke="#ffa21c"/>
<path d="M309.41 317.39C309.95 322.74 310.48 329.13 311.02 333.44C311.69 338.83 312.36 343.03 313.03 346.82C313.47 349.34 313.92 352.9 314.36 353.5C315.7 355.31 317.04 355.59 318.38 356.18C319.71 356.77 321.05 356.92 322.39 357.52C323.73 358.11 325.06 360.12 326.4 360.19C330.41 360.4 334.43 360.31 338.44 360.46C342.9 360.63 347.36 361.59 351.82 362.2C354.94 362.63 358.06 362.86 361.18 363.54C363.41 364.02 365.64 366.07 367.87 366.21C375.45 366.7 383.03 366.34 390.61 366.88C391.5 366.94 392.39 367.95 393.28 367.95C397.19 367.95 401.09 367.54 405 367.54C407.34 367.54 409.67 368.32 412.01 368.39C419.01 368.58 426.02 368.55 433.03 368.67C442.37 368.83 451.71 369.23 461.05 369.37C475.07 369.57 489.08 369.55 503.09 369.79C506.13 369.84 509.17 369.97 512.2 370.07" stroke="#111111"/>
<path d="M309.41 320.06C309.95 324.97 310.48 332.09 311.02 334.78C312.13 340.38 313.25 343.35 314.36 345.48C315.7 348.03 317.04 349.05 318.38 350.83C319.71 352.61 321.05 354.4 322.39 356.18C323.73 357.96 325.06 359.99 326.4 361.53C328.19 363.58 329.97 365.29 331.75 366.88C333.98 368.87 336.21 370.86 338.44 372.23C340.67 373.6 342.9 374.46 345.13 375.58C347.36 376.69 349.59 378.38 351.82 378.92C354.05 379.46 356.28 379.76 358.5 379.99C362.96 380.44 367.42 380.56 371.88 380.93C376.34 381.29 380.8 382.02 385.26 382.26C391.84 382.62 398.42 382.82 405 382.96C414.34 383.16 423.68 383.2 433.03 383.38C442.37 383.56 451.71 383.85 461.05 384.08C470.4 384.31 479.74 384.49 489.08 384.78C496.79 385.03 504.5 385.44 512.2 385.76" stroke="#12eeee"/>
</g>
<rect x="309" y="255.5" width="204.2" height="147.1" fill="none" stroke="#383838" stroke-width="1.4"/>
<text x="303" y="406.35" class="yt">0.08</text>
<text x="303" y="373.66" class="yt">0.12</text>
<text x="303" y="340.97" class="yt">0.16</text>
<text x="303" y="308.28" class="yt">0.2</text>
<text x="303" y="275.59" class="yt">0.24</text>
<text x="309.8" y="416.2" class="xt">0</text>
<text x="350.64" y="416.2" class="xt">50</text>
<text x="391.48" y="416.2" class="xt">100</text>
<text x="432.32" y="416.2" class="xt">150</text>
<text x="473.16" y="416.2" class="xt">200</text>
<text x="514" y="416.2" class="xt">250</text>
<path d="M309 402.6h2.6M513.2 402.6h-2.6M309 369.91h2.6M513.2 369.91h-2.6M309 337.22h2.6M513.2 337.22h-2.6M309 304.53h2.6M513.2 304.53h-2.6M309 271.84h2.6M513.2 271.84h-2.6M309 402.6v-2.6M309 255.5v2.6M349.84 402.6v-2.6M349.84 255.5v2.6M390.68 402.6v-2.6M390.68 255.5v2.6M431.52 402.6v-2.6M431.52 255.5v2.6M472.36 402.6v-2.6M472.36 255.5v2.6M513.2 402.6v-2.6M513.2 255.5v2.6" stroke="#3c3c3c" stroke-width="1"/>
<text transform="translate(273.7 329.05) rotate(-90)" class="ml">MSE</text>
<text transform="translate(420.3 435.7) scale(1 0.93)" class="xl">#Iterations</text>
<text x="420.3" y="459.6" class="cap" textLength="93.1" lengthAdjust="spacingAndGlyphs"><tspan font-weight="bold">(e)</tspan> Vertebral</text>
<clipPath id="cpf"><rect x="570.4" y="255.5" width="203.8" height="147.1"/></clipPath>
<rect x="717.95" y="258.1" width="51" height="58.5" fill="#fff" stroke="#4a4a4a" stroke-width="1"/>
<text x="742.25" y="268.2" class="lg">WOA</text>
<path d="M746.15 265.3H764.75" stroke="#ff2626" stroke-width="1.7"/>
<text x="742.25" y="275.58" class="lg">GA</text>
<path d="M746.15 272.68H764.75" stroke="#1a1aff" stroke-width="1.7"/>
<text x="742.25" y="282.96" class="lg">PSO</text>
<path d="M746.15 280.06H764.75" stroke="#22e022" stroke-width="1.7"/>
<text x="742.25" y="290.34" class="lg">ACO</text>
<path d="M746.15 287.44H764.75" stroke="#bf8fff" stroke-width="1.7"/>
<text x="742.25" y="297.72" class="lg">DE</text>
<path d="M746.15 294.82H764.75" stroke="#ffa21c" stroke-width="1.7"/>
<text x="742.25" y="305.1" class="lg">ES</text>
<path d="M746.15 302.2H764.75" stroke="#111111" stroke-width="1.7"/>
<text x="742.25" y="312.48" class="lg">PBIL</text>
<path d="M746.15 309.58H764.75" stroke="#12eeee" stroke-width="1.7"/>
<g clip-path="url(#cpf)" fill="none" stroke-width="1.7" stroke-linejoin="round">
<path d="M570.78 313.92C571.18 321.89 571.58 331 571.98 337.83C572.38 344.67 572.78 350.92 573.17 355.77C573.77 363.04 574.37 369.66 574.97 373.71C575.77 379.11 576.56 383.69 577.36 385.67C578.36 388.13 579.35 389.21 580.35 390.45C581.55 391.93 582.74 392.49 583.94 394.04C584.73 395.07 585.53 397.43 586.33 398.22C587.52 399.41 588.72 400.23 589.92 400.61C591.91 401.25 593.9 401.62 595.9 401.81C597.89 401.99 599.88 402.14 601.87 402.17C616.58 402.35 631.29 402.41 646 402.41C689.18 402.41 732.35 401.78 775.53 401.47" stroke="#ff2626"/>
<path d="M570.78 295.98C570.98 297.97 571.18 298.97 571.38 301.96C571.58 304.95 571.78 312.42 571.98 319.9C572.18 327.37 572.38 342.43 572.58 349.79C572.86 360.09 573.14 367.36 573.41 373.71C573.73 380.96 574.05 388.34 574.37 391.64C574.77 395.78 575.17 399.08 575.57 400.01C576.16 401.42 576.76 402.41 577.36 402.41C600.24 402.41 623.12 402.41 646 402.41C689.18 402.41 732.35 402.14 775.53 402.01" stroke="#1a1aff"/>
<path d="M570.78 305.55C571.1 312.32 571.42 318.08 571.74 325.87C572.02 332.7 572.3 345.4 572.58 349.79C573.17 359.2 573.77 363.68 574.37 367.73C575.17 373.13 575.97 377.94 576.76 379.69C577.96 382.3 579.15 383.41 580.35 384.47C581.55 385.53 582.74 386.25 583.94 386.86C585.93 387.88 587.92 388.3 589.92 389.25C591.91 390.21 593.9 392.24 595.9 392.84C597.89 393.44 599.88 393.64 601.87 394.04C605.86 394.83 609.85 395.66 613.83 396.43C617.02 397.04 620.21 397.53 623.4 398.22C624.99 398.57 626.59 399.31 628.18 399.42C634.12 399.83 640.06 399.8 646 400.01C651.29 400.21 656.58 400.59 661.86 400.64C699.75 401.05 737.64 401.01 775.53 401.19" stroke="#22e022"/>
<path d="M570.4 321.3H774.2" stroke="#bf8fff"/>
<path d="M571.38 332.09 583.94 332.45 586.93 333.29 587.52 335.44 599.48 335.44 606.66 336.64 609.05 337.83 609.29 344.41 614.43 344.41 615.03 348.59 616.22 355.77 618.62 356.97 619.81 359.12 634.16 359.12 634.76 367.13 640 366.85 643.47 367.72 646.93 370.84 654.73 370.84 655.94 375.52 690.24 375.52 691.98 378.12 695.44 385.39 709.3 385.56 711.03 386.78 734.42 386.78 738.75 389.38 749.15 390.24 762.14 390.24 763.35 393.71 774.27 394.05" stroke="#ffa21c"/>
<path d="M570.78 347.4C571.18 350.19 571.58 352.49 571.98 355.77C572.38 359.05 572.78 364.97 573.17 367.73C573.97 373.25 574.77 376.14 575.57 379.69C576.36 383.23 577.16 388.3 577.96 389.25C579.15 390.69 580.35 390.69 581.55 391.64C582.74 392.6 583.94 394.04 585.13 395.23C585.93 396.03 586.73 397.3 587.52 397.62C590.31 398.74 593.11 398.84 595.9 399.42C597.89 399.83 599.88 400.34 601.87 400.61C605.86 401.16 609.85 401.67 613.83 401.81C624.56 402.18 635.28 402.41 646 402.41C689.18 402.41 732.35 401.78 775.53 401.47" stroke="#12eeee"/>
<path d="M570.78 313.92C571.18 319.9 571.58 325.87 571.98 331.85C572.38 337.83 572.78 346.01 573.17 349.79C573.77 355.46 574.37 357.4 574.97 361.75C575.57 366.1 576.16 372.91 576.76 376.1C577.36 379.29 577.96 381.93 578.56 383.27C579.95 386.41 581.35 387.62 582.74 389.25C583.94 390.65 585.13 391.88 586.33 392.84C587.52 393.8 588.72 394.85 589.92 395.23C591.91 395.87 593.9 396.03 595.9 396.43C597.89 396.83 599.88 397.35 601.87 397.62C605.86 398.18 609.85 398.42 613.83 398.82C617.82 399.22 621.8 399.82 625.79 400.01C632.53 400.34 639.26 400.49 646 400.61C646.72 400.63 647.45 400.64 648.17 400.64C690.62 400.98 733.08 401.01 775.53 401.19" stroke="#111111"/>
</g>
<rect x="570.4" y="255.5" width="203.8" height="147.1" fill="none" stroke="#383838" stroke-width="1.4"/>
<text x="564.4" y="406.35" class="yt">0</text>
<text x="564.4" y="364.32" class="yt">0.04</text>
<text x="564.4" y="322.29" class="yt">0.08</text>
<text x="564.4" y="280.26" class="yt">0.12</text>
<text x="571.2" y="416.2" class="xt">0</text>
<text x="611.96" y="416.2" class="xt">50</text>
<text x="652.72" y="416.2" class="xt">100</text>
<text x="693.48" y="416.2" class="xt">150</text>
<text x="734.24" y="416.2" class="xt">200</text>
<text x="775" y="416.2" class="xt">250</text>
<path d="M570.4 402.6h2.6M774.2 402.6h-2.6M570.4 360.57h2.6M774.2 360.57h-2.6M570.4 318.54h2.6M774.2 318.54h-2.6M570.4 276.51h2.6M774.2 276.51h-2.6M570.4 402.6v-2.6M570.4 255.5v2.6M611.16 402.6v-2.6M611.16 255.5v2.6M651.92 402.6v-2.6M651.92 255.5v2.6M692.68 402.6v-2.6M692.68 255.5v2.6M733.44 402.6v-2.6M733.44 255.5v2.6M774.2 402.6v-2.6M774.2 255.5v2.6" stroke="#3c3c3c" stroke-width="1"/>
<text transform="translate(534.7 329.05) rotate(-90)" class="ml">MSE</text>
<text transform="translate(680 435.7) scale(1 0.93)" class="xl">#Iterations</text>
<text x="680" y="459.6" class="cap" textLength="96.3" lengthAdjust="spacingAndGlyphs"><tspan font-weight="bold">(f)</tspan> DiagnosisI</text>
<clipPath id="cpg"><rect x="47.3" y="504.9" width="204.7" height="147.3"/></clipPath>
<rect x="195.1" y="507.5" width="51" height="58.5" fill="#fff" stroke="#4a4a4a" stroke-width="1"/>
<text x="219.4" y="517.6" class="lg">WOA</text>
<path d="M223.3 514.7H241.9" stroke="#ff2626" stroke-width="1.7"/>
<text x="219.4" y="524.98" class="lg">GA</text>
<path d="M223.3 522.08H241.9" stroke="#1a1aff" stroke-width="1.7"/>
<text x="219.4" y="532.36" class="lg">PSO</text>
<path d="M223.3 529.46H241.9" stroke="#22e022" stroke-width="1.7"/>
<text x="219.4" y="539.74" class="lg">ACO</text>
<path d="M223.3 536.84H241.9" stroke="#bf8fff" stroke-width="1.7"/>
<text x="219.4" y="547.12" class="lg">DE</text>
<path d="M223.3 544.22H241.9" stroke="#ffa21c" stroke-width="1.7"/>
<text x="219.4" y="554.5" class="lg">ES</text>
<path d="M223.3 551.6H241.9" stroke="#111111" stroke-width="1.7"/>
<text x="219.4" y="561.88" class="lg">PBIL</text>
<path d="M223.3 558.98H241.9" stroke="#12eeee" stroke-width="1.7"/>
<g clip-path="url(#cpg)" fill="none" stroke-width="1.7" stroke-linejoin="round">
<path d="M48.34 573.57C48.61 579.29 48.88 585.96 49.14 590.71C49.52 597.51 49.9 603.22 50.29 607.86C50.86 614.81 51.43 622.29 52 625C52.76 628.61 53.52 630.41 54.29 631.86C55.43 634.02 56.57 634.81 57.71 636.43C58.48 637.51 59.24 638.27 60 639.86C60.38 640.65 60.76 642.68 61.14 643.29C61.9 644.5 62.67 644.87 63.43 645.57C64.57 646.62 65.71 648.04 66.86 648.43C68.76 649.08 70.67 649.19 72.57 649.57C74.48 649.95 76.38 650.66 78.29 650.71C93.52 651.18 108.76 651.24 124 651.29C166.51 651.41 209.02 651.41 251.53 651.47" stroke="#ff2626"/>
<path d="M47.77 579.29C47.96 586.9 48.15 592.78 48.34 602.14C48.5 609.64 48.65 624.2 48.8 630.71C48.95 637.23 49.1 643.98 49.26 645.57C49.6 649.15 49.94 651.28 50.29 651.29C74.86 651.85 99.43 651.86 124 651.86C166.51 651.86 209.02 651.78 251.53 651.74" stroke="#1a1aff"/>
<path d="M48.34 574.71C48.61 580.05 48.88 585.38 49.14 590.71C49.52 598.33 49.9 608.38 50.29 613.57C50.86 621.36 51.43 627.1 52 630.71C52.76 635.53 53.52 639.75 54.29 641C55.05 642.25 55.81 642.85 56.57 643.29C58.1 644.16 59.62 644.6 61.14 645C63.05 645.5 64.95 645.59 66.86 646.14C68.38 646.59 69.9 648.03 71.43 648.43C73.71 649.02 76 649.39 78.29 649.57C82.1 649.88 85.9 649.99 89.71 650.14C101.14 650.62 112.57 651.25 124 651.29C166.51 651.43 209.02 651.41 251.53 651.47" stroke="#22e022"/>
<path d="M47.3 574.1H252" stroke="#bf8fff"/>
<path d="M49.14 575.29 56.57 575.29 58.86 578.14 61.71 579.29 62.29 594.14 65.71 594.71 66.29 603.29 71.43 603.29 72 614.71 77.14 614.94 77.71 619.29 80.57 625 82.86 628.43 94.29 628.43 94.86 631.86 100 632.43 100.57 635.86 108 636.2 119.43 636.43 121.71 637.57 124 637.8 124.17 637.77 162.51 637.77 163.88 640.24 200.86 641.06 206.34 641.88 220.03 642.43 225.51 644.62 251.53 644.62" stroke="#ffa21c"/>
<path d="M48.34 572.43C48.61 580.43 48.88 589.95 49.14 596.43C49.52 605.68 49.9 614.09 50.29 619.29C50.86 627.08 51.43 633.4 52 636.43C52.76 640.47 53.52 643.24 54.29 644.43C55.05 645.61 55.81 646.06 56.57 646.71C57.33 647.37 58.1 648.17 58.86 648.43C60.76 649.08 62.67 649.25 64.57 649.57C67.24 650.02 69.9 650.62 72.57 650.71C89.71 651.31 106.86 651.51 124 651.51C166.51 651.51 209.02 651.48 251.53 651.47" stroke="#12eeee"/>
<path d="M48 553C48.19 557.95 48.38 562.55 48.57 567.86C48.76 573.16 48.95 579.29 49.14 585C49.33 590.71 49.52 598.71 49.71 602.14C50.1 609 50.48 611.7 50.86 615.86C51.24 620.01 51.62 624.8 52 627.29C52.57 631.01 53.14 633.35 53.71 635.29C54.29 637.23 54.86 638.64 55.43 639.86C56.19 641.48 56.95 643.24 57.71 643.86C58.86 644.78 60 645.29 61.14 645.57C62.29 645.86 63.43 645.95 64.57 646.14C65.71 646.33 66.86 646.43 68 646.71C69.14 647 70.29 648.13 71.43 648.43C73.71 649.03 76 649.39 78.29 649.57C82.1 649.88 85.9 649.95 89.71 650.14C93.52 650.33 97.33 650.62 101.14 650.71C108.76 650.9 116.38 651.04 124 651.06C166.51 651.16 209.02 651.15 251.53 651.19" stroke="#111111"/>
</g>
<rect x="47.3" y="504.9" width="204.7" height="147.3" fill="none" stroke="#383838" stroke-width="1.4"/>
<text x="41.3" y="655.95" class="yt">0</text>
<text x="41.3" y="613.86" class="yt">0.04</text>
<text x="41.3" y="571.78" class="yt">0.08</text>
<text x="41.3" y="529.69" class="yt">0.12</text>
<text x="48.1" y="665.8" class="xt">0</text>
<text x="89.04" y="665.8" class="xt">50</text>
<text x="129.98" y="665.8" class="xt">100</text>
<text x="170.92" y="665.8" class="xt">150</text>
<text x="211.86" y="665.8" class="xt">200</text>
<text x="252.8" y="665.8" class="xt">250</text>
<path d="M47.3 652.2h2.6M252 652.2h-2.6M47.3 610.11h2.6M252 610.11h-2.6M47.3 568.03h2.6M252 568.03h-2.6M47.3 525.94h2.6M252 525.94h-2.6M47.3 652.2v-2.6M47.3 504.9v2.6M88.24 652.2v-2.6M88.24 504.9v2.6M129.18 652.2v-2.6M129.18 504.9v2.6M170.12 652.2v-2.6M170.12 504.9v2.6M211.06 652.2v-2.6M211.06 504.9v2.6M252 652.2v-2.6M252 504.9v2.6" stroke="#3c3c3c" stroke-width="1"/>
<text transform="translate(12.2 578.55) rotate(-90)" class="ml">MSE</text>
<text transform="translate(156.6 684.6) scale(1 0.93)" class="xl">#Iterations</text>
<text x="156.6" y="708.7" class="cap" textLength="105.2" lengthAdjust="spacingAndGlyphs"><tspan font-weight="bold">(g)</tspan> DiagnosisII</text>
<clipPath id="cph"><rect x="309" y="504.9" width="204.2" height="147.3"/></clipPath>
<rect x="456.3" y="507.5" width="51" height="58.5" fill="#fff" stroke="#4a4a4a" stroke-width="1"/>
<text x="480.6" y="517.6" class="lg">WOA</text>
<path d="M484.5 514.7H503.1" stroke="#ff2626" stroke-width="1.7"/>
<text x="480.6" y="524.98" class="lg">GA</text>
<path d="M484.5 522.08H503.1" stroke="#1a1aff" stroke-width="1.7"/>
<text x="480.6" y="532.36" class="lg">PSO</text>
<path d="M484.5 529.46H503.1" stroke="#22e022" stroke-width="1.7"/>
<text x="480.6" y="539.74" class="lg">ACO</text>
<path d="M484.5 536.84H503.1" stroke="#bf8fff" stroke-width="1.7"/>
<text x="480.6" y="547.12" class="lg">DE</text>
<path d="M484.5 544.22H503.1" stroke="#ffa21c" stroke-width="1.7"/>
<text x="480.6" y="554.5" class="lg">ES</text>
<path d="M484.5 551.6H503.1" stroke="#111111" stroke-width="1.7"/>
<text x="480.6" y="561.88" class="lg">PBIL</text>
<path d="M484.5 558.98H503.1" stroke="#12eeee" stroke-width="1.7"/>
<g clip-path="url(#cph)" fill="none" stroke-width="1.7" stroke-linejoin="round">
<path d="M310.08 581.75C310.4 586.21 310.71 593.3 311.02 595.13C311.69 599.04 312.36 600.12 313.03 601.82C313.92 604.07 314.81 605.83 315.7 607.17C317.04 609.17 318.38 611.07 319.71 611.85C321.5 612.89 323.28 613.17 325.06 613.86C327.29 614.72 329.52 615.94 331.75 616.53C333.98 617.12 336.21 617.38 338.44 617.87C340.67 618.35 342.9 619.04 345.13 619.47C347.36 619.9 349.59 620.15 351.82 620.54C354.05 620.94 356.28 621.51 358.5 621.88C360.73 622.25 362.96 622.48 365.19 622.82C367.42 623.15 369.65 623.61 371.88 623.89C376.34 624.45 380.8 624.78 385.26 625.22C389.72 625.67 394.17 626.13 398.63 626.56C400.76 626.77 402.88 627.13 405 627.17C416.68 627.38 428.36 627.25 440.03 627.45C442.37 627.49 444.7 627.85 447.04 627.87C468.76 628.1 490.48 628.06 512.2 628.15" stroke="#ff2626"/>
<path d="M310.08 579.08C310.4 584.43 310.71 592.27 311.02 595.13C311.47 599.21 311.91 601.21 312.36 603.15C313.03 606.08 313.69 608.43 314.36 609.84C315.26 611.72 316.15 613.16 317.04 613.86C318.38 614.89 319.71 615.33 321.05 615.86C322.39 616.4 323.73 616.67 325.06 617.2C327.29 618.08 329.52 619.43 331.75 620.54C333.98 621.66 336.21 622.77 338.44 623.89C340.67 625 342.9 626.59 345.13 627.23C347.36 627.87 349.59 628 351.82 628.57C354.05 629.14 356.28 630.33 358.5 630.98C360.73 631.62 362.96 632.1 365.19 632.58C367.42 633.07 369.65 633.52 371.88 633.92C374.11 634.32 376.34 634.59 378.57 634.99C380.8 635.39 383.03 635.84 385.26 636.33C387.49 636.81 389.72 637.45 391.94 637.93C394.17 638.42 396.4 639.27 398.63 639.27C400.76 639.27 402.88 639.08 405 639.08C409.67 639.08 414.34 641.08 419.01 641.88C423.68 642.68 428.36 643.28 433.03 643.99C437.7 644.69 442.37 645.39 447.04 646.09C451.71 646.79 456.38 647.63 461.05 648.19C465.72 648.75 470.4 649.12 475.07 649.59C479.74 650.06 484.41 650.84 489.08 650.99C496.79 651.24 504.5 651.27 512.2 651.41" stroke="#1a1aff"/>
<path d="M310.08 585.77C310.4 591.12 310.71 598.06 311.02 601.82C311.47 607.18 311.91 613.65 312.36 613.86C313.47 614.36 314.59 614.16 315.7 614.52C316.59 614.81 317.48 615.86 318.38 616.53C319.27 617.2 320.16 617.87 321.05 618.54C321.94 619.21 322.83 620.39 323.73 620.54C326.4 621.01 329.08 620.91 331.75 621.21C335.32 621.62 338.89 623.04 342.45 623.22C345.57 623.37 348.7 623.36 351.82 623.49C356.28 623.67 360.73 624.16 365.19 624.56C369.65 624.95 374.11 625.45 378.57 625.89C383.03 626.34 387.49 627.04 391.94 627.23C396.3 627.42 400.65 627.53 405 627.59C416.68 627.75 428.36 627.64 440.03 627.87C442.37 627.92 444.7 628.71 447.04 629.27C449.38 629.83 451.71 631.3 454.05 631.37C473.43 631.97 492.82 631.84 512.2 632.07" stroke="#22e022"/>
<path d="M309 576.3H513.2" stroke="#bf8fff"/>
<path d="M310.35 575.73 315.7 577.07 319.71 577.74 321.72 580.15 333.09 580.41 335.77 582.42 339.78 583.36 351.82 583.36 353.15 590.45 359.84 590.85 362.52 593.79 370.54 594.06 371.88 595.8 378.57 596.47 385.26 597.8 405 598.44 416.21 598.44 418.31 600.12 437.23 600.12 441.43 601.24 449.84 602.37 462.46 602.37 464.56 606.85 466.66 607.55 482.07 607.83 496.09 608.25 503.09 609.37 512.2 609.65" stroke="#ffa21c"/>
<path d="M310.08 559.01C310.17 564.36 310.26 571.64 310.35 575.06C310.57 583.64 310.8 590.94 311.02 592.45C311.69 596.99 312.36 598.09 313.03 599.14C313.92 600.55 314.81 601.05 315.7 601.82C316.59 602.58 317.48 602.96 318.38 603.82C319.04 604.47 319.71 605.93 320.38 606.5C321.5 607.45 322.61 608.19 323.73 608.5C326.4 609.26 329.08 609.46 331.75 609.84C333.54 610.09 335.32 610.13 337.1 610.51C337.99 610.7 338.89 611.7 339.78 611.85C342.45 612.28 345.13 612.21 347.8 612.52C349.14 612.67 350.48 613.07 351.82 613.19C356.28 613.57 360.73 613.73 365.19 613.86C369.65 613.98 374.11 614.12 378.57 614.12C387.38 614.12 396.19 613.86 405 613.86C414.34 613.86 423.68 613.86 433.03 613.86C434.19 613.86 435.36 614.83 436.53 615.96C437.23 616.64 437.93 618.76 438.63 620.16C439.33 621.56 440.03 624.33 440.73 624.37C445.41 624.61 450.08 624.41 454.75 624.65C455.45 624.68 456.15 626.45 456.85 626.47C469.93 626.73 483.01 626.59 496.09 626.75C501.46 626.81 506.83 627.03 512.2 627.17" stroke="#111111"/>
<path d="M310.08 560.35C310.26 565.26 310.44 571 310.62 575.06C310.97 583.19 311.33 592.25 311.69 595.13C312.13 598.73 312.58 600.48 313.03 601.82C313.92 604.49 314.81 605.38 315.7 607.17C316.59 608.95 317.48 610.73 318.38 612.52C319.27 614.3 320.16 616.34 321.05 617.87C321.94 619.4 322.83 621.72 323.73 621.88C326.4 622.38 329.08 622.19 331.75 622.55C333.98 622.85 336.21 623.79 338.44 624.56C340.67 625.32 342.9 626.47 345.13 627.23C347.36 628 349.59 628.7 351.82 629.24C354.05 629.77 356.28 630.13 358.5 630.58C360.73 631.02 362.96 631.47 365.19 631.91C367.42 632.36 369.65 632.88 371.88 633.25C374.11 633.62 376.34 633.85 378.57 634.19C380.8 634.52 383.03 634.98 385.26 635.26C387.49 635.53 389.72 635.67 391.94 635.93C394.17 636.19 396.4 636.79 398.63 636.86C400.76 636.93 402.88 636.92 405 636.98C409.67 637.11 414.34 637.64 419.01 638.38C421.35 638.75 423.68 640.11 426.02 640.48C430.69 641.22 435.36 641.57 440.03 641.88C444.7 642.19 449.38 642.51 454.05 642.58C473.43 642.87 492.82 642.86 512.2 643" stroke="#12eeee"/>
</g>
<rect x="309" y="504.9" width="204.2" height="147.3" fill="none" stroke="#383838" stroke-width="1.4"/>
<text x="303" y="619.12" class="yt">0.12</text>
<text x="303" y="563.89" class="yt">0.18</text>
<text x="303" y="508.65" class="yt">0.24</text>
<text x="309.8" y="665.8" class="xt">0</text>
<text x="350.64" y="665.8" class="xt">50</text>
<text x="391.48" y="665.8" class="xt">100</text>
<text x="432.32" y="665.8" class="xt">150</text>
<text x="473.16" y="665.8" class="xt">200</text>
<text x="514" y="665.8" class="xt">250</text>
<path d="M309 615.38h2.6M513.2 615.38h-2.6M309 560.14h2.6M513.2 560.14h-2.6M309 504.9h2.6M513.2 504.9h-2.6M309 652.2v-2.6M309 504.9v2.6M349.84 652.2v-2.6M349.84 504.9v2.6M390.68 652.2v-2.6M390.68 504.9v2.6M431.52 652.2v-2.6M431.52 504.9v2.6M472.36 652.2v-2.6M472.36 504.9v2.6M513.2 652.2v-2.6M513.2 504.9v2.6" stroke="#3c3c3c" stroke-width="1"/>
<text transform="translate(273.7 578.55) rotate(-90)" class="ml">MSE</text>
<text transform="translate(420.2 684.6) scale(1 0.93)" class="xl">#Iterations</text>
<text x="420.2" y="708.7" class="cap" textLength="105.8" lengthAdjust="spacingAndGlyphs"><tspan font-weight="bold">(h)</tspan> Parkinsons</text>
<clipPath id="cpi"><rect x="570.4" y="504.9" width="203.8" height="147.3"/></clipPath>
<rect x="717.95" y="507.5" width="51" height="58.5" fill="#fff" stroke="#4a4a4a" stroke-width="1"/>
<text x="742.25" y="517.6" class="lg">WOA</text>
<path d="M746.15 514.7H764.75" stroke="#ff2626" stroke-width="1.7"/>
<text x="742.25" y="524.98" class="lg">GA</text>
<path d="M746.15 522.08H764.75" stroke="#1a1aff" stroke-width="1.7"/>
<text x="742.25" y="532.36" class="lg">PSO</text>
<path d="M746.15 529.46H764.75" stroke="#22e022" stroke-width="1.7"/>
<text x="742.25" y="539.74" class="lg">ACO</text>
<path d="M746.15 536.84H764.75" stroke="#bf8fff" stroke-width="1.7"/>
<text x="742.25" y="547.12" class="lg">DE</text>
<path d="M746.15 544.22H764.75" stroke="#ffa21c" stroke-width="1.7"/>
<text x="742.25" y="554.5" class="lg">ES</text>
<path d="M746.15 551.6H764.75" stroke="#111111" stroke-width="1.7"/>
<text x="742.25" y="561.88" class="lg">PBIL</text>
<path d="M746.15 558.98H764.75" stroke="#12eeee" stroke-width="1.7"/>
<g clip-path="url(#cpi)" fill="none" stroke-width="1.7" stroke-linejoin="round">
<path d="M571.01 579.78C571.46 582.01 571.9 585.15 572.35 586.47C573.02 588.43 573.69 589.28 574.36 590.48C575.47 592.48 576.59 594.79 577.7 595.83C579.48 597.49 581.27 598.06 583.05 599.17C584.83 600.29 586.62 601.53 588.4 602.52C590.19 603.51 591.97 604.44 593.75 605.19C595.98 606.13 598.21 606.72 600.44 607.6C602.67 608.48 604.9 609.93 607.13 610.54C609.36 611.16 611.59 611.35 613.82 611.88C616.05 612.42 618.28 613.35 620.5 613.89C622.73 614.42 624.96 614.86 627.19 615.22C629.42 615.59 631.65 615.9 633.88 616.16C638.34 616.69 642.8 617.29 647.26 617.5C651.72 617.7 656.17 617.9 660.63 617.9C662.09 617.9 663.54 617.74 665 617.74C701.67 617.74 738.34 618.67 775.01 619.14" stroke="#ff2626"/>
<path d="M571.01 561.05C571.68 562.17 572.35 563.56 573.02 564.4C573.69 565.23 574.36 565.52 575.03 566.4C575.92 567.57 576.81 569.77 577.7 571.75C578.59 573.73 579.48 577.13 580.38 578.44C581.71 580.41 583.05 581.55 584.39 582.45C586.17 583.66 587.96 584.24 589.74 585.13C591.08 585.8 592.41 586.47 593.75 587.13C595.98 588.25 598.21 590.11 600.44 590.48C602.67 590.85 604.9 590.85 607.13 591.15C609.36 591.44 611.59 591.89 613.82 592.49C616.05 593.08 618.28 594.4 620.5 595.16C622.73 595.92 624.96 596.63 627.19 597.17C629.42 597.7 631.65 598.11 633.88 598.5C636.11 598.9 638.34 599.24 640.57 599.57C642.8 599.91 645.03 600.2 647.26 600.51C649.49 600.82 651.72 601.11 653.94 601.45C656.17 601.78 658.4 602.11 660.63 602.52C662.09 602.79 663.54 603.15 665 603.44C669.67 604.36 674.34 605.24 679.01 605.96C681.35 606.33 683.68 606.63 686.02 606.95C690.69 607.58 695.36 608.34 700.03 608.77C704.7 609.19 709.38 609.32 714.05 609.75C718.72 610.17 723.39 610.93 728.06 611.57C731.33 612.02 734.6 612.87 737.87 612.97C743.94 613.15 750.01 613.06 756.09 613.25C758.42 613.33 760.76 614.37 763.09 614.37C767.06 614.37 771.04 614.37 775.01 614.37" stroke="#1a1aff"/>
<path d="M571.01 570.41C571.37 574.43 571.73 579.77 572.08 582.45C572.4 584.8 572.71 587.39 573.02 587.8C573.69 588.69 574.36 588.98 575.03 589.14C576.81 589.56 578.59 589.51 580.38 589.81C582.16 590.11 583.94 590.61 585.73 591.15C587.51 591.68 589.29 592.49 591.08 593.15C592.86 593.82 594.64 594.76 596.43 595.16C597.77 595.46 599.1 595.66 600.44 595.83C602.67 596.11 604.9 596.14 607.13 596.5C608.91 596.79 610.7 598.25 612.48 598.5C615.15 598.89 617.83 599.05 620.5 599.17C624.96 599.38 629.42 599.41 633.88 599.57C638.34 599.74 642.8 600 647.26 600.24C653.17 600.57 659.09 601.01 665 601.34C669.67 601.6 674.34 601.78 679.01 602.04C686.02 602.44 693.03 602.87 700.03 603.44C704.7 603.82 709.38 604.6 714.05 604.84C721.05 605.21 728.06 605.46 735.07 605.54C748.38 605.71 761.69 605.73 775.01 605.82" stroke="#22e022"/>
<path d="M570.4 567.4H774.2" stroke="#bf8fff"/>
<path d="M571.68 566 591.75 566.4 593.08 567.34 597.1 568.41 598.43 570.15 605.79 570.68 607.13 572.42 620.5 573.09 633.88 573.76 647.26 574.16 665 574.71 679.01 575.41 690.22 577.52 704.24 578.92 707.04 579.9 718.25 580.74 721.05 581.72 737.87 581.72 740.67 582.42 775.01 582.7" stroke="#ffa21c"/>
<path d="M571.01 558.38C571.46 561.5 571.9 567.08 572.35 567.74C573.24 569.07 574.13 569.41 575.03 569.75C575.92 570.08 576.81 570.02 577.7 570.41C578.59 570.8 579.48 574.87 580.38 575.1C582.16 575.56 583.94 575.36 585.73 575.77C587.06 576.07 588.4 579.26 589.74 579.51C591.52 579.85 593.31 579.79 595.09 580.05C597.32 580.36 599.55 581.41 601.78 581.78C603.56 582.08 605.34 582.41 607.13 582.45C616.05 582.66 624.96 582.49 633.88 582.72C635.22 582.75 636.56 584.04 637.89 584.46C638.79 584.74 639.68 585.06 640.57 585.13C642.8 585.3 645.03 585.35 647.26 585.4C653.17 585.53 659.09 585.46 665 585.64C666.87 585.7 668.74 586.87 670.61 586.91C675.74 587.01 680.88 586.92 686.02 587.05C686.72 587.06 687.42 588.68 688.12 588.73C698.17 589.35 708.21 588.85 718.25 589.43C719.65 589.51 721.05 590.83 722.46 591.53C722.92 591.76 723.39 592.23 723.86 592.23C733.2 592.23 742.54 592.23 751.88 592.23C759.59 592.23 767.3 592.42 775.01 592.51" stroke="#111111"/>
<path d="M571.01 549.01C571.24 552.58 571.46 557.06 571.68 559.71C572.13 565.02 572.57 569.22 573.02 571.75C573.69 575.55 574.36 578.68 575.03 579.78C575.92 581.25 576.81 581.56 577.7 582.45C578.59 583.34 579.48 584.51 580.38 585.13C582.16 586.36 583.94 586.91 585.73 587.8C587.51 588.7 589.29 589.68 591.08 590.48C593.31 591.47 595.54 591.94 597.77 593.15C598.66 593.64 599.55 594.98 600.44 595.16C602.67 595.6 604.9 595.49 607.13 595.83C609.36 596.16 611.59 597.5 613.82 597.84C616.05 598.17 618.28 598.21 620.5 598.5C622.73 598.8 624.96 599.4 627.19 599.84C629.42 600.29 631.65 600.73 633.88 601.18C636.11 601.63 638.34 601.84 640.57 602.52C641.46 602.79 642.35 603.22 643.24 603.86C644.14 604.49 645.03 607.1 645.92 607.2C648.59 607.5 651.27 607.58 653.94 607.6C657.63 607.63 661.31 607.62 665 607.65C674.34 607.71 683.68 608.11 693.03 608.35C702.37 608.58 711.71 608.72 721.05 609.05C725.72 609.21 730.4 609.51 735.07 609.75C739.74 609.98 744.41 610.13 749.08 610.45C751.42 610.61 753.75 611.06 756.09 611.15C762.39 611.4 768.7 611.43 775.01 611.57" stroke="#12eeee"/>
</g>
<rect x="570.4" y="504.9" width="203.8" height="147.3" fill="none" stroke="#383838" stroke-width="1.4"/>
<text x="564.4" y="631.4" class="yt">0.2</text>
<text x="564.4" y="582.3" class="yt">0.24</text>
<text x="564.4" y="533.2" class="yt">0.28</text>
<text x="571.2" y="665.8" class="xt">0</text>
<text x="611.96" y="665.8" class="xt">50</text>
<text x="652.72" y="665.8" class="xt">100</text>
<text x="693.48" y="665.8" class="xt">150</text>
<text x="734.24" y="665.8" class="xt">200</text>
<text x="775" y="665.8" class="xt">250</text>
<path d="M570.4 627.65h2.6M774.2 627.65h-2.6M570.4 578.55h2.6M774.2 578.55h-2.6M570.4 529.45h2.6M774.2 529.45h-2.6M570.4 652.2v-2.6M570.4 504.9v2.6M611.16 652.2v-2.6M611.16 504.9v2.6M651.92 652.2v-2.6M651.92 504.9v2.6M692.68 652.2v-2.6M692.68 504.9v2.6M733.44 652.2v-2.6M733.44 504.9v2.6M774.2 652.2v-2.6M774.2 504.9v2.6" stroke="#3c3c3c" stroke-width="1"/>
<text transform="translate(534.7 578.55) rotate(-90)" class="ml">MSE</text>
<text transform="translate(681.6 684.6) scale(1 0.93)" class="xl">#Iterations</text>
<text x="681.6" y="708.7" class="cap" textLength="58.4" lengthAdjust="spacingAndGlyphs"><tspan font-weight="bold">(i)</tspan> Liver</text>
<clipPath id="cpj"><rect x="309" y="754.4" width="204.2" height="146.5"/></clipPath>
<rect x="456.3" y="757" width="51" height="58.5" fill="#fff" stroke="#4a4a4a" stroke-width="1"/>
<text x="480.6" y="767.1" class="lg">WOA</text>
<path d="M484.5 764.2H503.1" stroke="#ff2626" stroke-width="1.7"/>
<text x="480.6" y="774.48" class="lg">GA</text>
<path d="M484.5 771.58H503.1" stroke="#1a1aff" stroke-width="1.7"/>
<text x="480.6" y="781.86" class="lg">PSO</text>
<path d="M484.5 778.96H503.1" stroke="#22e022" stroke-width="1.7"/>
<text x="480.6" y="789.24" class="lg">ACO</text>
<path d="M484.5 786.34H503.1" stroke="#bf8fff" stroke-width="1.7"/>
<text x="480.6" y="796.62" class="lg">DE</text>
<path d="M484.5 793.72H503.1" stroke="#ffa21c" stroke-width="1.7"/>
<text x="480.6" y="804" class="lg">ES</text>
<path d="M484.5 801.1H503.1" stroke="#111111" stroke-width="1.7"/>
<text x="480.6" y="811.38" class="lg">PBIL</text>
<path d="M484.5 808.48H503.1" stroke="#12eeee" stroke-width="1.7"/>
<g clip-path="url(#cpj)" fill="none" stroke-width="1.7" stroke-linejoin="round">
<path d="M310.08 820.13C310.62 829.05 311.15 841.7 311.69 846.88C312.36 853.35 313.03 858.44 313.69 860.26C314.81 863.29 315.92 864.54 317.04 865.61C318.38 866.88 319.71 867.39 321.05 868.28C322.39 869.17 323.73 869.89 325.06 870.96C326.4 872.03 327.74 873.93 329.08 874.97C330.86 876.36 332.64 877.76 334.43 878.31C336.66 879 338.89 879.3 341.12 879.65C344.68 880.21 348.25 880.59 351.82 880.99C356.28 881.49 360.73 881.88 365.19 882.33C369.65 882.77 374.11 883.3 378.57 883.67C383.03 884.03 387.49 884.42 391.94 884.6C396.3 884.78 400.65 884.86 405 884.97C414.34 885.22 423.68 885.54 433.03 885.67C459.42 886.05 485.81 886.14 512.2 886.37" stroke="#ff2626"/>
<path d="M309.68 800.06C310.35 802.29 311.02 804.01 311.69 806.75C312.58 810.41 313.47 817.93 314.36 821.47C315.7 826.76 317.04 829.26 318.38 833.5C319.04 835.63 319.71 837.59 320.38 840.19C321.05 842.79 321.72 847.82 322.39 849.56C323.73 853.02 325.06 854.26 326.4 856.24C327.74 858.23 329.08 860.07 330.41 861.59C331.75 863.12 333.09 864.45 334.43 865.61C336.21 867.15 337.99 868.73 339.78 869.62C341.56 870.51 343.34 870.86 345.13 871.63C346.47 872.2 347.8 872.96 349.14 873.63C350.48 874.3 351.82 875.36 353.15 875.64C354.94 876.01 356.72 875.97 358.5 876.31C360.73 876.72 362.96 878.39 365.19 878.98C367.42 879.58 369.65 879.93 371.88 880.32C376.34 881.1 380.8 881.71 385.26 882.33C389.72 882.95 394.17 883.46 398.63 884.07C400.76 884.36 402.88 884.8 405 884.97C409.67 885.34 414.34 885.32 419.01 885.67C423.68 886.02 428.36 887.33 433.03 887.77C437.7 888.22 442.37 888.56 447.04 888.76C451.71 888.95 456.38 889 461.05 889.18C465.72 889.35 470.4 889.69 475.07 889.88C487.45 890.36 499.82 890.62 512.2 891" stroke="#1a1aff"/>
<path d="M309.68 790.7C309.9 800.51 310.13 810.79 310.35 820.13C310.57 829.47 310.8 843.21 311.02 846.88C311.47 854.23 311.91 859.59 312.36 859.59C314.36 859.59 316.37 859.59 318.38 859.59C320.61 859.59 322.83 861.06 325.06 861.59C327.29 862.13 329.52 862.74 331.75 862.93C336.21 863.31 340.67 863.27 345.13 863.6C349.59 863.94 354.05 865.07 358.5 865.61C362.96 866.14 367.42 866.8 371.88 866.94C376.34 867.09 380.8 867.21 385.26 867.21C391.84 867.21 398.42 867.17 405 867.17C413.88 867.17 422.75 867.23 431.63 867.74C432.33 867.77 433.03 869.55 433.73 869.56C459.89 869.96 486.04 869.84 512.2 869.98" stroke="#22e022"/>
<path d="M309 819.5H513.2" stroke="#bf8fff"/>
<path d="M311.02 805.15 327.07 805.15 329.08 811.43 331.08 812.1 333.09 820.13 334.43 823.47 339.78 823.47 341.12 830.56 345.13 830.83 347.8 832.84 370.54 832.84 374.56 834.17 375.89 837.52 379.91 838.59 395.96 838.86 405 839.43 407.8 842.23 410.61 843.63 419.71 843.63 421.82 846.15 433.03 846.43 435.83 847.84 445.64 848.12 449.84 849.94 452.65 851.76 475.07 852.04 476.47 853.72 489.08 854.14 503.09 854.56 508 855.12 509.4 856.24 512.2 856.52" stroke="#ffa21c"/>
<path d="M309.68 804.08C310.13 809.43 310.57 817.04 311.02 820.13C311.69 824.76 312.36 827.94 313.03 829.49C313.92 831.57 314.81 833 315.7 833.5C317.04 834.27 318.38 834.08 319.71 834.84C320.61 835.35 321.5 838.57 322.39 838.86C323.73 839.28 325.06 839.38 326.4 839.52C329.52 839.85 332.64 839.71 335.77 840.19C337.1 840.4 338.44 846.02 339.78 846.88C341.12 847.74 342.45 848.36 343.79 848.49C346.47 848.75 349.14 848.75 351.82 848.89C356.28 849.11 360.73 849.08 365.19 849.56C366.08 849.65 366.98 850.56 367.87 850.63C373.66 851.05 379.46 851.01 385.26 851.16C391.84 851.34 398.42 851.62 405 851.62C412.01 851.62 419.01 851.62 426.02 851.62C426.95 851.62 427.89 852.03 428.82 852.04C449.84 852.3 470.86 852.07 491.88 852.32C492.82 852.33 493.75 852.74 494.69 852.74C500.53 852.74 506.36 852.74 512.2 852.74" stroke="#111111"/>
<path d="M309.68 792.04C310.13 796.94 310.57 802.99 311.02 806.75C311.69 812.4 312.36 816.86 313.03 820.13C314.36 826.67 315.7 833.33 317.04 834.84C318.38 836.35 319.71 836.09 321.05 837.52C322.39 838.94 323.73 845.84 325.06 848.22C326.4 850.6 327.74 852.41 329.08 853.57C330.86 855.11 332.64 855.8 334.43 856.91C336.21 858.03 337.99 859.27 339.78 860.26C341.56 861.25 343.34 862.26 345.13 862.93C347.36 863.78 349.59 864.27 351.82 864.94C354.05 865.61 356.28 866.41 358.5 866.94C360.73 867.48 362.96 867.99 365.19 868.28C367.42 868.58 369.65 868.7 371.88 868.95C376.34 869.45 380.8 870.28 385.26 870.69C389.72 871.1 394.17 871.23 398.63 871.63C400.76 871.82 402.88 872.17 405 872.36C412.01 872.98 419.01 873.36 426.02 873.76C430.69 874.03 435.36 874.27 440.03 874.46C447.04 874.75 454.05 874.99 461.05 875.16C468.06 875.34 475.07 875.58 482.07 875.58C492.12 875.58 502.16 875.58 512.2 875.58" stroke="#12eeee"/>
</g>
<rect x="309" y="754.4" width="204.2" height="146.5" fill="none" stroke="#383838" stroke-width="1.4"/>
<text x="303" y="868.02" class="yt">0.12</text>
<text x="303" y="813.09" class="yt">0.18</text>
<text x="303" y="758.15" class="yt">0.24</text>
<text x="309.8" y="914.5" class="xt">0</text>
<text x="350.64" y="914.5" class="xt">50</text>
<text x="391.48" y="914.5" class="xt">100</text>
<text x="432.32" y="914.5" class="xt">150</text>
<text x="473.16" y="914.5" class="xt">200</text>
<text x="514" y="914.5" class="xt">250</text>
<path d="M309 864.27h2.6M513.2 864.27h-2.6M309 809.34h2.6M513.2 809.34h-2.6M309 754.4h2.6M513.2 754.4h-2.6M309 900.9v-2.6M309 754.4v2.6M349.84 900.9v-2.6M349.84 754.4v2.6M390.68 900.9v-2.6M390.68 754.4v2.6M431.52 900.9v-2.6M431.52 754.4v2.6M472.36 900.9v-2.6M472.36 754.4v2.6M513.2 900.9v-2.6M513.2 754.4v2.6" stroke="#3c3c3c" stroke-width="1"/>
<text transform="translate(269 827.65) rotate(-90)" class="ml">MSE</text>
<text transform="translate(420 933.4) scale(1 0.93)" class="xl">#Iterations</text>
<text x="420" y="956.6" class="cap" textLength="98.1" lengthAdjust="spacingAndGlyphs"><tspan font-weight="bold">(j)</tspan> Australian</text>
</svg>
</body></html>
